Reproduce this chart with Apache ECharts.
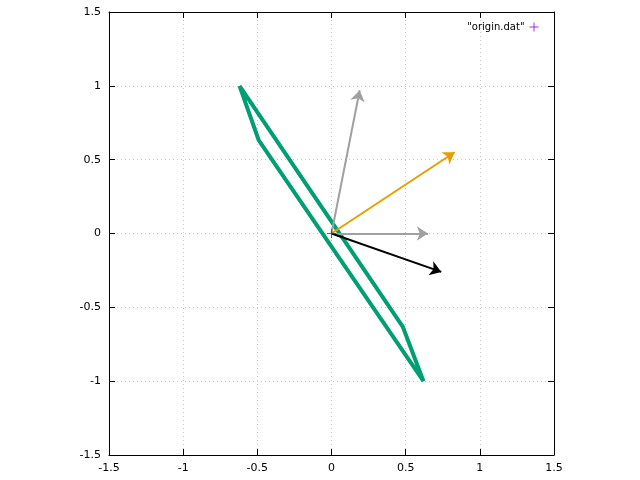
<!DOCTYPE html>
<html><head><meta charset="utf-8">
<script src="https://cdn.jsdelivr.net/npm/echarts@6/dist/echarts.min.js"></script>
<style>html,body{margin:0;background:#fff}#c{width:640px;height:480px}</style>
</head><body><div id="c"></div>
<script>
const ticks = [-1.5,-1,-0.5,0,0.5,1,1.5];
const polygon = [[-0.62,1.0],[0.48,-0.63],[0.62,-1.0],[-0.49,0.63],[-0.62,1.0]];
const grayArrows = [[0.19,0.97],[0.65,0]];
const orangeArrow = [0.83,0.55];
const blackArrow = [0.74,-0.26];
const originPts = [[0,0]];

const plus = 'path://M0,5H10M5,0V10';
const chart = echarts.init(document.getElementById('c'));
const fmt = v => String(v);
function axis(pos, show){
  return {type:'value', min:-1.5, max:1.5, interval:0.5, position:pos,
    axisLine:{show:true,onZero:false,lineStyle:{color:'#000'}},
    axisTick:{show:true,inside:true,length:6,lineStyle:{color:'#000'}},
    axisLabel:{show:show,color:'#000',fontSize:11,fontFamily:'DejaVu Sans',formatter:fmt,margin:8},
    splitLine:{show:show,lineStyle:{color:'#c8c8c8',type:[1,3]}}};
}
function arrow(p,color){
  return {type:'lines',coordinateSystem:'cartesian2d',symbol:['none','arrow'],symbolSize:[8,11],
    lineStyle:{color,width:2,opacity:1},data:[{coords:[[0,0],p]}],z:3};
}
chart.setOption({
  animation:false,
  grid:{left:109,right:86,top:12,bottom:25},
  xAxis:[axis('bottom',true),axis('top',false)],
  yAxis:[axis('left',true),axis('right',false)],
  legend:{right:94,top:15,itemWidth:9,itemHeight:9,align:'right',
    textStyle:{fontSize:10,fontFamily:'DejaVu Sans',color:'#000'},
    data:[{name:'"origin.dat"',icon:plus,itemStyle:{color:'none',borderColor:'#9400d3',borderWidth:1}}]},
  series:[
    {type:'line',data:polygon,symbol:'none',lineStyle:{color:'#009e73',width:4},z:2},
    arrow(grayArrows[0],'#a0a0a0'),
    arrow(grayArrows[1],'#a0a0a0'),
    arrow(orangeArrow,'#e69f00'),
    arrow(blackArrow,'#000'),
    {name:'"origin.dat"',type:'scatter',data:originPts,symbol:plus,symbolSize:9,
     itemStyle:{color:'none',borderColor:'#9400d3',borderWidth:1},z:4}
  ]
});
</script></body></html>
